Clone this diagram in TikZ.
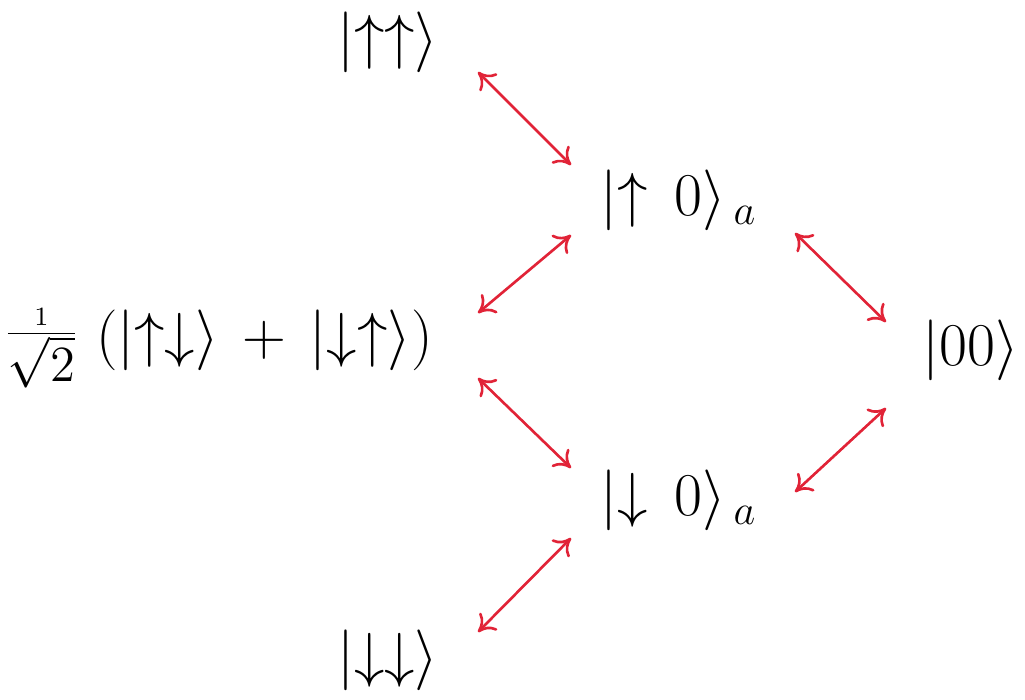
\documentclass[tikz,border=0pt]{standalone}
\usetikzlibrary{arrows.meta}
\definecolor{arrred}{RGB}{225,35,55}
\newcommand{\numsmall}{\mbox{\fontsize{7.5}{9}\selectfont 1}}
\newcommand{\densq}{\mbox{\fontsize{14.5}{17}\selectfont$\sqrt{2}$}}
\begin{document}
\begin{tikzpicture}[x=0.01cm,y=-0.01cm,
  lab/.style={inner sep=0pt,font=\fontsize{16.5}{20}\selectfont},
  link/.style={draw=arrred,line width=0.75pt,{To[length=4.5pt,width=7pt]}-{To[length=4.5pt,width=7pt]}}]
\useasboundingbox (0,0) rectangle (1025,699);
\node[lab] (uu) at (388,42) {$|{\uparrow\uparrow}\rangle$};
\node[lab,anchor=west] (u0) at (600,200) {$|{\uparrow}\;\,0\rangle_{\,a}$};
\node[lab,anchor=west] (s) at (3,348) {\raisebox{2pt}{$\frac{\numsmall}{\densq}$}$\;\bigl(|{\uparrow\downarrow}\rangle\,+\,|{\downarrow\uparrow}\rangle\bigr)$};
\node[lab,anchor=west] (oo) at (922,350) {$|00\rangle$};
\node[lab,anchor=west] (d0) at (600,500) {$|{\downarrow}\;\,0\rangle_{\,a}$};
\node[lab] (dd) at (388,660) {$|{\downarrow\downarrow}\rangle$};
\coordinate (a1) at (478,72); \coordinate (b1) at (571,165);
\coordinate (a2) at (571,235); \coordinate (b2) at (478,313);
\coordinate (a3) at (478,378); \coordinate (b3) at (571,468);
\coordinate (a4) at (571,538); \coordinate (b4) at (478,632);
\coordinate (a5) at (795,233); \coordinate (b5) at (886,322);
\coordinate (a6) at (886,408); \coordinate (b6) at (795,492);
\draw[link] (a1) -- (b1);
\draw[link] (a2) -- (b2);
\draw[link] (a3) -- (b3);
\draw[link] (a4) -- (b4);
\draw[link] (a5) -- (b5);
\draw[link] (a6) -- (b6);
\end{tikzpicture}
\end{document}
